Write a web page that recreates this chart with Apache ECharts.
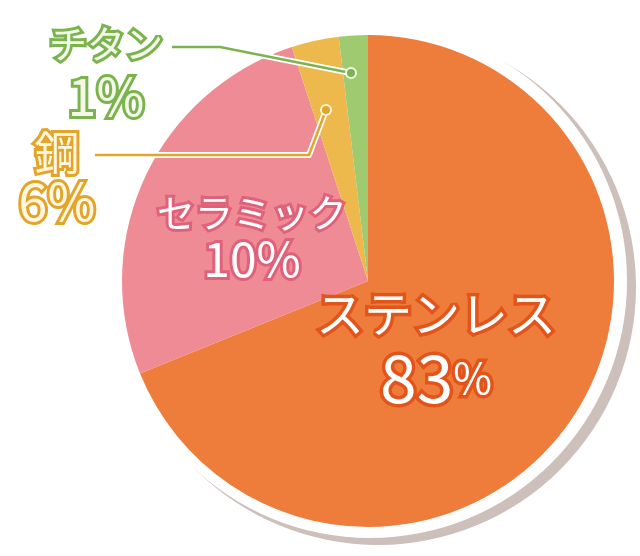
<!DOCTYPE html>
<html>
<head>
<meta charset="utf-8">
<script src="https://cdn.jsdelivr.net/npm/echarts@6/dist/echarts.min.js"></script>
<style>
html,body{margin:0;padding:0;background:#fff;}
#main{width:640px;height:556px;}
</style>
</head>
<body>
<div id="main"></div>
<script>
// Data
const names = ['ステンレス', 'セラミック', '鋼', 'チタン'];
const shares = [68.8, 26.1, 3.1, 1.9];          // slice sizes as drawn
const pctLabels = ['83', '10', '6', '1'];        // printed percentages

// Styles
const sliceColors = ['#EE7D3C', '#EE8B94', '#EDB94C', '#9FCA6F'];
const textStroke = ['#E2541A', '#E0627A', '#E2A52A', '#7BB44F'];
const textFill = ['#FFFFFF', '#FFFFFF', '#FFF6E0', '#F3F8E8'];
const nameSize = [48, 38, 45, 38];
const pctSize = [66, 48, 52, 52];
const signSize = [42, 48, 52, 52];
const strokeW = [7, 6, 6, 6];
const lineGap = [64, 46, 48, 52];
const labelPos = [[436, 346], [252, 236], [57, 177], [106, 70]];

const FONT = '"Noto Sans CJK JP", "Noto Sans", sans-serif';

const data = names.map((n, i) => {
  const base = { color: textFill[i], textBorderColor: textStroke[i], textBorderWidth: strokeW[i], fontFamily: FONT, lineHeight: lineGap[i] };
  return {
    name: n,
    value: shares[i],
    itemStyle: { color: sliceColors[i] },
    label: {
      formatter: '{n|' + n + '}\n{p|' + pctLabels[i] + '}{s|%}',
      rich: {
        n: Object.assign({ fontSize: nameSize[i] }, base),
        p: Object.assign({ fontSize: pctSize[i] }, base),
        s: Object.assign({ fontSize: signSize[i] }, base)
      }
    }
  };
});

const chart = echarts.init(document.getElementById('main'), null, { renderer: 'canvas' });

const option = {
  animation: false,
  backgroundColor: '#ffffff',
  series: [
    {
      type: 'pie', silent: true, z: 1,
      center: [378, 287], radius: 258,
      label: { show: false }, labelLine: { show: false },
      data: [{ value: 1, itemStyle: { color: '#CDBFBA' } }]
    },
    {
      type: 'pie', silent: true, z: 1,
      center: [370, 281], radius: 257,
      label: { show: false }, labelLine: { show: false },
      data: [{ value: 1, itemStyle: { color: '#FFFFFF' } }]
    },
    {
      type: 'pie', z: 2,
      center: [368, 281], radius: 246,
      startAngle: 90, clockwise: true,
      avoidLabelOverlap: false,
      emphasis: { disabled: true },
      label: { show: true, position: 'inside', align: 'center' },
      labelLine: { show: false },
      labelLayout: function (p) {
        const pos = labelPos[p.dataIndex];
        return { x: pos[0], y: pos[1], align: 'center', verticalAlign: 'middle' };
      },
      data: data
    }
  ],
  graphic: [
    { type: 'polyline', z: 50, shape: { points: [[172, 47], [220, 47], [351, 73]] }, style: { stroke: '#FFFFFF', lineWidth: 6, fill: null, lineJoin: 'round' } },
    { type: 'polyline', z: 51, shape: { points: [[172, 47], [220, 47], [351, 73]] }, style: { stroke: '#7BB44F', lineWidth: 2.5, fill: null } },
    { type: 'circle', z: 52, shape: { cx: 351, cy: 73, r: 5 }, style: { fill: '#7BB44F', stroke: '#F3F8E8', lineWidth: 2 } },
    { type: 'polyline', z: 50, shape: { points: [[95, 155], [309, 155], [326, 110]] }, style: { stroke: '#FFFFFF', lineWidth: 6, fill: null, lineJoin: 'round' } },
    { type: 'polyline', z: 51, shape: { points: [[95, 155], [309, 155], [326, 110]] }, style: { stroke: '#E2A52A', lineWidth: 2.5, fill: null } },
    { type: 'circle', z: 52, shape: { cx: 326, cy: 110, r: 5 }, style: { fill: '#E2A52A', stroke: '#FFF6E0', lineWidth: 2 } }
  ]
};

chart.setOption(option);
</script>
</body>
</html>
